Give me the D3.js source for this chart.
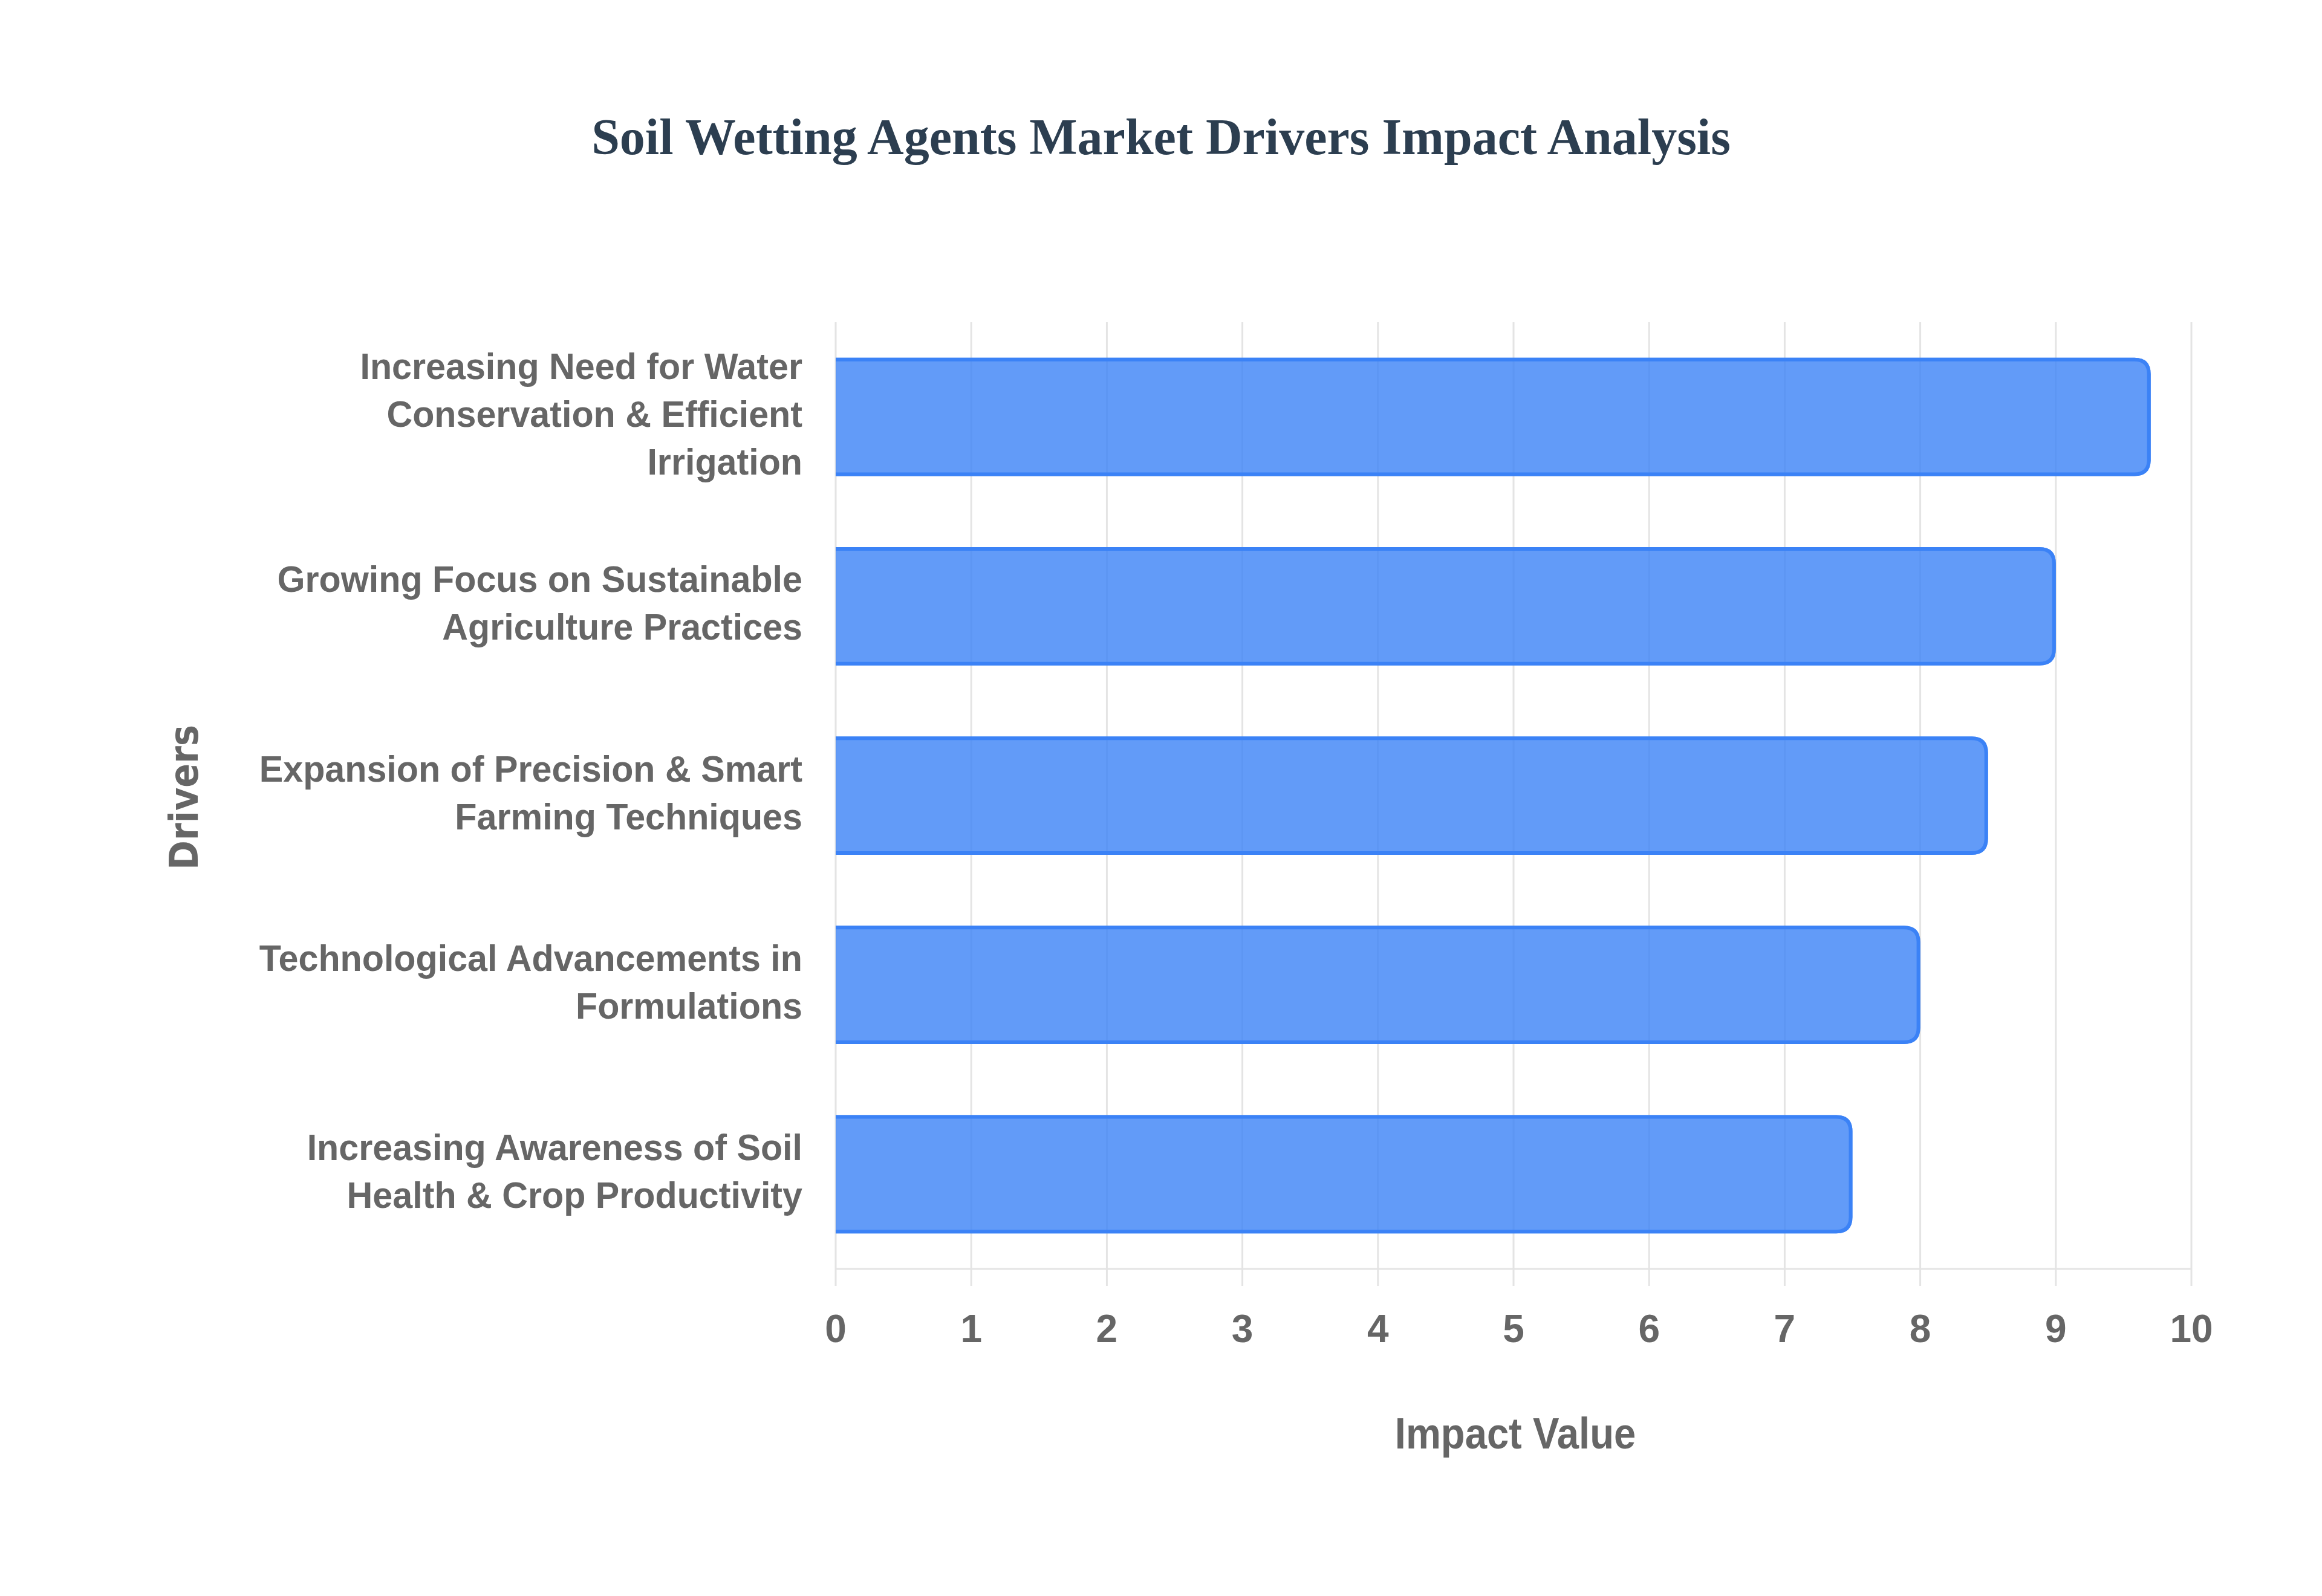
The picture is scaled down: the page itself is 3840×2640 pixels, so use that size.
<!DOCTYPE html>
<html>
<head>
<meta charset="utf-8">
<script src="https://cdn.jsdelivr.net/npm/d3@7"></script>
<style>
  html, body { margin: 0; padding: 0; background: #ffffff; }
  svg { display: block; }
</style>
</head>
<body>
<svg id="chart" width="3840" height="2640"></svg>
<script>
// ---- data ----
const chartTitle = "Soil Wetting Agents Market Drivers Impact Analysis";
const categories = [
  "Increasing Need for Water Conservation & Efficient Irrigation",
  "Growing Focus on Sustainable Agriculture Practices",
  "Expansion of Precision & Smart Farming Techniques",
  "Technological Advancements in Formulations",
  "Increasing Awareness of Soil Health & Crop Productivity"
];
const categoryLines = [
  ["Increasing Need for Water", "Conservation & Efficient", "Irrigation"],
  ["Growing Focus on Sustainable", "Agriculture Practices"],
  ["Expansion of Precision & Smart", "Farming Techniques"],
  ["Technological Advancements in", "Formulations"],
  ["Increasing Awareness of Soil", "Health & Crop Productivity"]
];
const impactValues = [9.7, 9.0, 8.5, 8.0, 7.5];
const xTicks = [0, 1, 2, 3, 4, 5, 6, 7, 8, 9, 10];
const xAxisTitle = "Impact Value";
const yAxisTitle = "Drivers";

// ---- layout ----
const W = 3840, H = 2640;
const plot = { left: 1382, right: 3624, top: 533, bottom: 2099 };
const barFill = "rgba(59,130,246,0.8)";
const barStroke = "rgb(59,130,246)";
const textGray = "#666666";
const gridColor = "#e4e4e4";

const svg = d3.select("#chart");

const x = d3.scaleLinear().domain([0, 10]).range([plot.left, plot.right]);
const y = d3.scaleBand().domain(categories).range([plot.top, plot.bottom]).padding(0);
const barH = y.bandwidth() * 0.625;

function condense(sel, sx) {
  sel.each(function () {
    const len = this.getComputedTextLength();
    d3.select(this).attr("textLength", len * sx).attr("lengthAdjust", "spacingAndGlyphs");
  });
}

// title
svg.append("text")
  .attr("x", W / 2).attr("y", 255)
  .attr("text-anchor", "middle")
  .attr("font-family", "'Liberation Serif', 'Times New Roman', serif")
  .attr("font-weight", "bold")
  .attr("font-size", 84)
  .attr("fill", "#2c3e50")
  .text(chartTitle);

// vertical grid lines
const grid = svg.append("g");
grid.selectAll("line.g")
  .data(xTicks)
  .join("line")
  .attr("x1", d => x(d)).attr("x2", d => x(d))
  .attr("y1", plot.top).attr("y2", plot.bottom + 28)
  .attr("stroke", gridColor)
  .attr("stroke-width", 3);

// bottom border line
grid.append("line")
  .attr("x1", x(0)).attr("x2", x(10))
  .attr("y1", plot.bottom).attr("y2", plot.bottom)
  .attr("stroke", gridColor)
  .attr("stroke-width", 3);

// bars
const bw = 6, r = 27;
const bars = svg.append("g");
categories.forEach((c, i) => {
  const x0 = x(0), x1 = x(impactValues[i]);
  const y0 = y(c) + (y.bandwidth() - barH) / 2, y1 = y0 + barH;
  const fillPath = `M${x0},${y0} L${x1 - r},${y0} Q${x1},${y0} ${x1},${y0 + r} L${x1},${y1 - r} Q${x1},${y1} ${x1 - r},${y1} L${x0},${y1} Z`;
  bars.append("path").attr("d", fillPath).attr("fill", barFill);
  const h = bw / 2;
  const sx0 = x0, sx1 = x1 - h, sy0 = y0 + h, sy1 = y1 - h, rr = r - h;
  const strokePath = `M${sx0},${sy0} L${sx1 - rr},${sy0} Q${sx1},${sy0} ${sx1},${sy0 + rr} L${sx1},${sy1 - rr} Q${sx1},${sy1} ${sx1 - rr},${sy1} L${sx0},${sy1}`;
  bars.append("path").attr("d", strokePath)
    .attr("fill", "none").attr("stroke", barStroke).attr("stroke-width", bw);
});

// y category labels
const lineH = 79;
const yLab = svg.append("g");
categories.forEach((c, i) => {
  const lines = categoryLines[i];
  const cy = y(c) + y.bandwidth() / 2;
  lines.forEach((ln, j) => {
    const t = yLab.append("text")
      .attr("x", 1327)
      .attr("y", cy + (j - (lines.length - 1) / 2) * lineH + 16)
      .attr("text-anchor", "end")
      .attr("font-family", "'Liberation Sans', Arial, sans-serif")
      .attr("font-weight", "bold")
      .attr("font-size", 62)
      .attr("fill", textGray)
      .text(ln);
    condense(t, 0.955);
  });
});

// x tick labels
svg.append("g").selectAll("text")
  .data(xTicks)
  .join("text")
  .attr("x", d => x(d))
  .attr("y", 2220)
  .attr("text-anchor", "middle")
  .attr("font-family", "'Liberation Sans', Arial, sans-serif")
  .attr("font-weight", "bold")
  .attr("font-size", 64)
  .attr("fill", textGray)
  .text(d => d);

// x axis title
const xt = svg.append("text")
  .attr("x", 2506)
  .attr("y", 2396)
  .attr("text-anchor", "middle")
  .attr("font-family", "'Liberation Sans', Arial, sans-serif")
  .attr("font-weight", "bold")
  .attr("font-size", 72)
  .attr("fill", textGray)
  .text(xAxisTitle);
condense(xt, 0.905);

// y axis title
const yt = svg.append("text")
  .attr("transform", "translate(327,1319) rotate(-90)")
  .attr("text-anchor", "middle")
  .attr("font-family", "'DejaVu Sans', Verdana, sans-serif")
  .attr("font-weight", "bold")
  .attr("font-size", 66)
  .attr("fill", textGray)
  .text(yAxisTitle);
condense(yt, 0.89);
</script>
</body>
</html>
